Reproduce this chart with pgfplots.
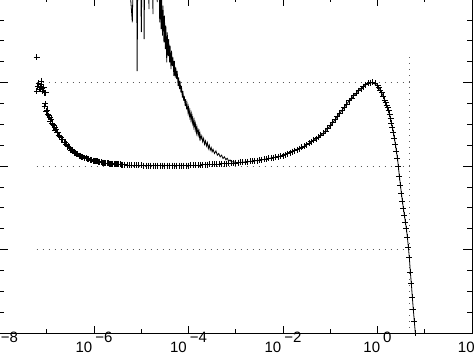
\documentclass[border=0pt]{standalone}
\usepackage{fontspec}
\setmainfont{Liberation Sans}
\usepackage{pgfplots}
\usepackage{pgfplotstable}
\pgfplotsset{compat=1.18}
\newcommand{\lab}[1]{10\hspace{3pt}\raisebox{10pt}{#1}}
\pgfplotstableread{
lx y
-7.216 1.652
-7.189 1.479
-7.210 1.449
-7.174 1.495
-7.153 1.459
-7.131 1.470
-7.117 1.509
-7.117 1.489
-7.095 1.462
-7.083 1.449
-7.060 1.470
-7.047 1.440
-7.025 1.440
-7.047 1.359
-7.030 1.372
-7.011 1.329
-6.995 1.335
-6.977 1.309
-6.960 1.300
-6.941 1.291
-6.925 1.268
-6.905 1.279
-6.890 1.255
-6.871 1.249
-6.855 1.240
-6.835 1.231
-6.818 1.215
-6.799 1.219
-6.782 1.200
-6.765 1.201
-6.748 1.185
-6.729 1.179
-6.700 1.170
-6.680 1.158
-6.659 1.159
-6.630 1.140
-6.610 1.139
-6.587 1.129
-6.560 1.115
-6.540 1.118
-6.517 1.111
-6.490 1.096
-6.470 1.098
-6.447 1.089
-6.420 1.080
-6.390 1.078
-6.365 1.070
-6.341 1.069
-6.310 1.060
-6.280 1.062
-6.260 1.054
-6.235 1.055
-6.200 1.049
-6.170 1.046
-6.140 1.043
-6.110 1.040
-6.080 1.037
-6.050 1.034
-6.020 1.032
-6.000 1.031
-5.975 1.030
-5.950 1.029
-5.925 1.027
-5.900 1.026
-5.875 1.024
-5.850 1.022
-5.825 1.020
-5.800 1.019
-5.775 1.018
-5.750 1.017
-5.725 1.016
-5.700 1.015
-5.675 1.014
-5.65 1.013
-5.625 1.012
-5.60 1.012
-5.575 1.011
-5.55 1.011
-5.525 1.010
-5.50 1.010
-5.475 1.009
-5.45 1.009
-5.425 1.008
-5.40 1.008
-5.35 1.007
-5.30 1.006
-5.25 1.005
-5.20 1.005
-5.15 1.004
-5.10 1.004
-5.05 1.003
-5.00 1.003
-4.95 1.002
-4.90 1.002
-4.85 1.002
-4.80 1.002
-4.75 1.002
-4.70 1.002
-4.65 1.002
-4.60 1.002
-4.55 1.002
-4.50 1.002
-4.45 1.002
-4.40 1.002
-4.35 1.002
-4.30 1.002
-4.25 1.002
-4.20 1.002
-4.15 1.002
-4.10 1.002
-4.05 1.002
-4.00 1.002
-3.95 1.003
-3.90 1.004
-3.85 1.005
-3.80 1.005
-3.75 1.006
-3.70 1.007
-3.65 1.008
-3.60 1.008
-3.55 1.009
-3.50 1.010
-3.45 1.010
-3.40 1.011
-3.35 1.012
-3.30 1.013
-3.25 1.013
-3.20 1.014
-3.15 1.015
-3.10 1.016
-3.05 1.017
-3.00 1.018
-2.95 1.020
-2.90 1.021
-2.85 1.023
-2.80 1.024
-2.75 1.026
-2.70 1.027
-2.65 1.029
-2.60 1.031
-2.55 1.032
-2.50 1.034
-2.45 1.037
-2.40 1.039
-2.35 1.042
-2.30 1.045
-2.25 1.047
-2.20 1.050
-2.15 1.053
-2.10 1.056
-2.05 1.059
-2.00 1.062
-1.95 1.068
-1.90 1.074
-1.85 1.080
-1.80 1.086
-1.75 1.092
-1.70 1.098
-1.65 1.104
-1.60 1.111
-1.55 1.119
-1.50 1.127
-1.45 1.136
-1.40 1.145
-1.35 1.154
-1.30 1.163
-1.25 1.173
-1.20 1.183
-1.15 1.196
-1.10 1.210
-1.05 1.225
-1.00 1.240
-0.95 1.258
-0.90 1.277
-0.85 1.296
-0.80 1.315
-0.75 1.334
-0.70 1.353
-0.65 1.371
-0.60 1.390
-0.55 1.406
-0.50 1.421
-0.45 1.437
-0.40 1.451
-0.35 1.464
-0.30 1.476
-0.25 1.486
-0.20 1.494
-0.15 1.499
-0.10 1.500
-0.05 1.495
0.00 1.480
0.03 1.468
0.06 1.455
0.09 1.438
0.12 1.418
0.15 1.395
0.170 1.380
0.191 1.365
0.212 1.350
0.233 1.333
0.254 1.310
0.275 1.284
0.296 1.255
0.317 1.228
0.338 1.200
0.359 1.165
0.380 1.127
0.401 1.088
0.422 1.047
0.443 0.995
0.464 0.935
0.485 0.885
0.506 0.835
0.527 0.790
0.548 0.745
0.569 0.705
0.590 0.665
0.611 0.625
0.632 0.575
0.653 0.515
0.674 0.450
0.695 0.365
0.716 0.295
0.737 0.215
0.758 0.140
0.779 0.070
0.800 0.000
}\marks
\pgfplotstableread{
lx y
-5.30 2.3
-5.189 1.860
-5.16 2.3
-5.10 2.3
-5.087 1.568
-5.07 2.3
-5.02 2.3
-4.998 1.802
-4.98 2.3
-4.95 2.3
-4.939 1.760
-4.925 2.3
-4.85 2.3
-4.837 1.940
-4.82 2.3
-4.77 2.3
-4.752 1.910
-4.74 2.3
-4.68 2.3
-4.663 1.982
-4.65 2.3
-4.62 2.2
-4.61 1.86
-4.60 2.1
-4.58 1.82
-4.57 2.0
-4.55 1.78
-4.54 1.96
-4.52 1.74
-4.51 1.90
-4.49 1.70
-4.48 1.84
-4.46 1.62
-4.45 1.80
-4.43 1.66
-4.42 1.76
-4.40 1.62
-4.39 1.72
-4.37 1.58
-4.36 1.69
-4.34 1.60
-4.33 1.65
-4.31 1.54
-4.30 1.63
-4.28 1.53
-4.27 1.59
-4.25 1.52
-4.24 1.57
-4.22 1.48
-4.21 1.53
-4.19 1.46
-4.18 1.51
-4.16 1.44
-4.15 1.48
-4.13 1.41
-4.12 1.45
-4.10 1.39
-4.09 1.42
-4.07 1.36
-4.06 1.40
-4.04 1.34
-4.03 1.37
-4.01 1.32
-4.00 1.35
-3.98 1.30
-3.97 1.33
-3.95 1.28
-3.94 1.31
-3.92 1.26
-3.91 1.29
-3.89 1.24
-3.88 1.27
-3.86 1.22
-3.85 1.25
-3.83 1.20
-3.82 1.23
-3.80 1.19
-3.79 1.21
-3.77 1.17
-3.76 1.20
-3.74 1.16
-3.72 1.18
-3.70 1.145
-3.68 1.165
-3.66 1.13
-3.64 1.15
-3.62 1.12
-3.60 1.14
-3.58 1.105
-3.56 1.125
-3.54 1.095
-3.52 1.11
-3.50 1.085
-3.48 1.10
-3.45 1.075
-3.42 1.09
-3.39 1.065
-3.36 1.075
-3.33 1.055
-3.30 1.065
-3.27 1.045
-3.24 1.055
-3.21 1.038
-3.18 1.046
-3.15 1.030
-3.12 1.036
-3.09 1.024
-3.05 1.026
-3.00 1.020
-2.90 1.021
-2.80 1.024
-2.70 1.027
-2.60 1.031
-2.50 1.034
-2.40 1.039
-2.30 1.045
-2.20 1.050
-2.10 1.056
-2.00 1.062
-1.90 1.074
-1.80 1.086
-1.70 1.098
-1.60 1.111
-1.50 1.127
-1.40 1.145
-1.30 1.163
-1.20 1.183
-1.10 1.210
-1.00 1.240
-0.90 1.277
-0.80 1.315
-0.70 1.353
-0.60 1.390
-0.50 1.421
-0.40 1.451
-0.30 1.476
-0.20 1.494
-0.10 1.500
0.00 1.480
0.06 1.455
0.12 1.418
0.170 1.380
0.212 1.350
0.254 1.310
0.296 1.255
0.338 1.200
0.380 1.127
0.422 1.047
0.443 0.995
0.464 0.935
0.485 0.885
0.506 0.835
0.527 0.790
0.548 0.745
0.569 0.705
0.590 0.665
0.611 0.625
0.632 0.575
0.653 0.515
0.674 0.450
0.695 0.365
0.716 0.295
0.737 0.215
0.758 0.140
0.779 0.070
0.800 0.000
}\line
\begin{document}
\begin{tikzpicture}
\begin{axis}[
  at={(-0.5pt,20pt)}, anchor=south west, scale only axis,
  width=472.5pt, height=334pt,
  xmin=-8, xmax=2, ymin=0, ymax=2,
  xtick={-8,-6,-4,-2,0,2},
  xticklabels={{\lab{−8}},{\lab{−6}},{\lab{−4}},{\lab{−2}},{\lab{0}},{\lab{2}}},
  minor xtick={-7,-5,-3,-1,1},
  ytick=\empty,
  major tick length=7pt, minor tick length=3.5pt,
  xticklabel style={font=\fontsize{15}{15}\selectfont, anchor=north, inner sep=0pt, yshift=1.5pt},
  axis line style={line width=0.6pt},
  every tick/.style={black, line width=0.6pt},
]
\addplot[black!65, line width=0.9pt, dash pattern=on 1pt off 5pt] coordinates {(-7.216,0.5) (0.66,0.5)};
\addplot[black!65, line width=0.9pt, dash pattern=on 1pt off 5pt] coordinates {(-7.216,1.0) (0.66,1.0)};
\addplot[black!65, line width=0.9pt, dash pattern=on 1pt off 5pt] coordinates {(-7.216,1.5) (0.66,1.5)};
\addplot[black!65, line width=0.9pt, dash pattern=on 1pt off 5pt] coordinates {(0.683,1.652) (0.683,0)};
\addplot[black, line width=0.8pt] table[x=lx, y=y] {\line};
\addplot[black, only marks, mark=+, mark size=3pt, mark options={line width=0.85pt}] table[x=lx, y=y] {\marks};
\end{axis}
\begin{axis}[
  at={(-0.5pt,20pt)}, anchor=south west, scale only axis,
  width=472.5pt, height=334pt,
  xmin=-8, xmax=2, ymin=0, ymax=2,
  xtick=\empty,
  ytick={0,0.5,1,1.5,2}, minor y tick num=3,
  yticklabel={},
  major tick length=9pt, minor tick length=5pt,
  axis line style={line width=0.6pt},
  every tick/.style={black, line width=0.6pt},
]
\end{axis}
\pgfresetboundingbox
\path[use as bounding box] (0,0) rectangle (474pt,353pt);
\end{tikzpicture}
\end{document}
